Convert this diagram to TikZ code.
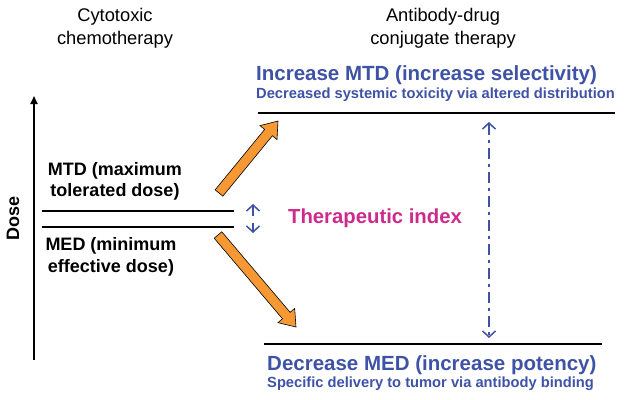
\documentclass[tikz,border=0pt]{standalone}
\usepackage{fontspec}
\setmainfont{Liberation Sans}
\usetikzlibrary{arrows.meta,calc}
\definecolor{adcblue}{RGB}{62,82,166}
\definecolor{timag}{RGB}{204,42,140}
\definecolor{arrorange}{RGB}{246,152,52}
\tikzset{
  title/.style={font=\fontsize{18.3}{23}\selectfont, align=center, inner sep=0pt},
  doselabel/.style={font=\bfseries\fontsize{18}{21.5}\selectfont, align=center, inner sep=0pt},
  bighead/.style={font=\bfseries\fontsize{20.5}{24}\selectfont, text=adcblue, inner sep=0pt},
  subhead/.style={font=\bfseries\fontsize{14.7}{17}\selectfont, text=adcblue, inner sep=0pt},
  levelline/.style={line width=2pt},
  bluearrow/.style={adcblue, line width=1.5pt, {Straight Barb[length=6pt,width=13pt,line width=1.5pt]}-{Straight Barb[length=6pt,width=13pt,line width=1.5pt]}},
  orangearrow/.style={fill=arrorange, draw=black, line width=0.6pt, line join=miter}
}
\begin{document}
\begin{tikzpicture}[x=1pt,y=-1pt]
\useasboundingbox (0,0) rectangle (628,399);

% titles
\node[title] (tleft) at (115,28.5) {Cytotoxic\\chemotherapy};
\node[title] (tright) at (443,28.5) {Antibody-drug\\conjugate therapy};

% dose axis
\coordinate (axbot) at (34,360);
\coordinate (axtop) at (34,96);
\draw[line width=1.8pt, -{Triangle[length=8pt,width=7pt]}] (axbot) -- (axtop);
\node[font=\bfseries\fontsize{18}{20}\selectfont, rotate=90, inner sep=0pt] (dose) at (13,218) {Dose};

% left labels
\node[doselabel] (mtd) at (115,181.5) {MTD (maximum\\tolerated dose)};
\node[doselabel] (med) at (111,257) {MED (minimum\\effective dose)};

% left level lines
\coordinate (mtdL) at (42,211); \coordinate (mtdR) at (234,211);
\coordinate (medL) at (42,227); \coordinate (medR) at (234,227);
\draw[levelline] (mtdL) -- (mtdR);
\draw[levelline] (medL) -- (medR);

% small therapeutic-index arrow
\coordinate (tiTop) at (253,204);
\coordinate (tiBot) at (253,233);
\draw[bluearrow, dash pattern=on 10pt off 7pt] (tiTop) -- (tiBot);
\node[font=\bfseries\fontsize{20.3}{24}\selectfont, text=timag, inner sep=0pt] (ti) at (375,218) {Therapeutic index};

% right level lines
\coordinate (topL) at (258,113); \coordinate (topR) at (615,113);
\coordinate (botL) at (264,344); \coordinate (botR) at (602,344);
\draw[levelline] (topL) -- (topR);
\draw[levelline] (botL) -- (botR);

% right headings
\node[bighead, anchor=west] (incr) at (256,75) {Increase MTD (increase selectivity)};
\node[subhead, anchor=west] (incrsub) at (256,95) {Decreased systemic toxicity via altered distribution};
\node[bighead, anchor=west] (decr) at (267,365) {Decrease MED (increase potency)};
\node[subhead, anchor=west] (decrsub) at (267,384) {Specific delivery to tumor via antibody binding};

% tall dash-dot arrow
\coordinate (bigTop) at (489,122);
\coordinate (bigBot) at (489,338);
\draw[bluearrow, dash pattern=on 11pt off 5pt on 3pt off 5pt] (bigTop) -- (bigBot);

% orange block arrows
\coordinate (ua) at (219,193);
\coordinate (ub) at (278,121);
\coordinate (uh) at ($(ub)!15pt!(ua)$);
\draw[orangearrow]
  ($(ua)!5pt!90:(ub)$) -- ($(uh)!5pt!-90:(ua)$) -- ($(uh)!11pt!-90:(ua)$) --
  (ub) -- ($(uh)!11pt!90:(ua)$) -- ($(uh)!5pt!90:(ua)$) -- ($(ua)!5pt!-90:(ub)$) -- cycle;

\coordinate (la) at (218,235);
\coordinate (lb) at (296,327);
\coordinate (lh) at ($(lb)!15pt!(la)$);
\draw[orangearrow]
  ($(la)!5pt!90:(lb)$) -- ($(lh)!5pt!-90:(la)$) -- ($(lh)!11pt!-90:(la)$) --
  (lb) -- ($(lh)!11pt!90:(la)$) -- ($(lh)!5pt!90:(la)$) -- ($(la)!5pt!-90:(lb)$) -- cycle;
\end{tikzpicture}
\end{document}
